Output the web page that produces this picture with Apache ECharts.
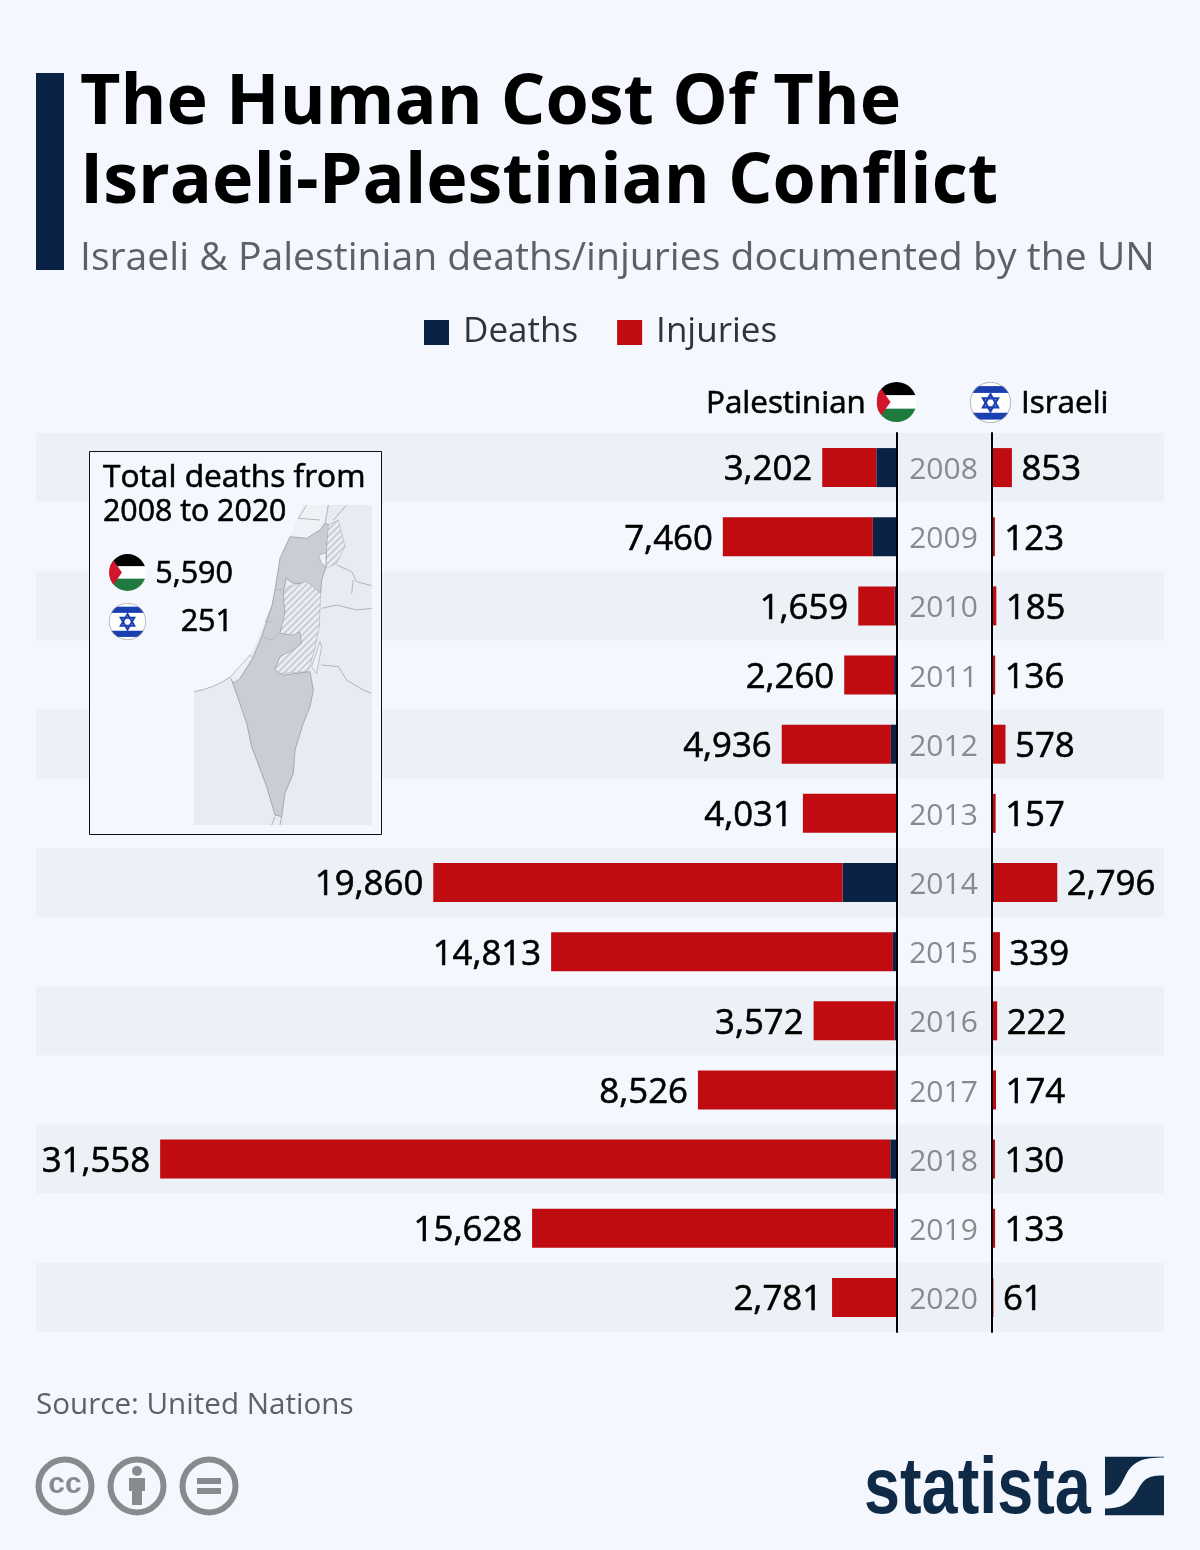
<!DOCTYPE html>
<html><head><meta charset="utf-8">
<style>html,body{margin:0;padding:0;background:#f4f8fe}#c{width:1200px;height:1550px}</style>
<script src="https://cdn.jsdelivr.net/npm/echarts@6/dist/echarts.min.js"></script>
</head><body><div id="c"></div>
<script>
const years=['2008','2009','2010','2011','2012','2013','2014','2015','2016','2017','2018','2019','2020'];
const palestinianTotals=[3202,7460,1659,2260,4936,4031,19860,14813,3572,8526,31558,15628,2781];
const palestinianDeaths=[887,1034,95,124,260,39,2329,174,109,77,290,133,39];
const palestinianInjuries=[2315,6426,1564,2136,4676,3992,17531,14639,3463,8449,31268,15495,2742];
const israeliTotals=[853,123,185,136,578,157,2796,339,222,174,130,133,61];
const israeliDeaths=[35,9,9,11,7,6,88,28,15,15,14,11,3];
const israeliInjuries=[818,114,176,125,571,151,2708,311,207,159,116,122,58];

const NAVY='#0a2246',RED='#c00b10',BG='#f4f8fe',BAND='#ecf0f7',FONT='"Open Sans"';
const uri=s=>'data:image/svg+xml;charset=utf-8,'+encodeURIComponent(s);
const palFlag=uri(`<svg xmlns="http://www.w3.org/2000/svg" viewBox="0 0 60 60"><defs><clipPath id="a"><circle cx="30" cy="30" r="30"/></clipPath></defs><g clip-path="url(#a)"><rect width="60" height="20" fill="#000"/><rect y="20" width="60" height="20" fill="#fff"/><rect y="40" width="60" height="20" fill="#1f7a3d"/><path d="M0 0L21 30L0 60Z" fill="#d2152d"/></g></svg>`);
const isrFlag=uri(`<svg xmlns="http://www.w3.org/2000/svg" viewBox="0 0 60 60"><defs><clipPath id="a"><circle cx="30" cy="30" r="30"/></clipPath></defs><g clip-path="url(#a)"><rect width="60" height="60" fill="#fff"/><rect y="6" width="60" height="10" fill="#1a3fb0"/><rect y="45" width="60" height="10" fill="#1a3fb0"/><path d="M30 18L41 37H19ZM30 43L19 24H41Z" fill="none" stroke="#1a3fb0" stroke-width="3.2"/></g><circle cx="30" cy="30" r="29.5" fill="none" stroke="#8a8f96" stroke-width="1"/></svg>`);
const mapSvg=uri(`<svg xmlns="http://www.w3.org/2000/svg" viewBox="0 0 930 1200"><defs><pattern id="h" width="14" height="14" patternUnits="userSpaceOnUse" patternTransform="rotate(-45)"><rect width="14" height="14" fill="#eceff4"/><rect width="14" height="6" fill="#c9cdd5"/></pattern></defs>
<path d="M342 755L400 740L450 712L510 645L545 570L575 500L600 355L630 290L655 235L670 195H875V1155H342Z" fill="#e8ebf1"/>
<path d="M655 235L668 195L745 195L735 250L720 270L680 295L630 290Z" fill="#eef1f6"/>
<g fill="none" stroke="#94989f" stroke-width="2"><path d="M342 755Q400 745 450 712"/><path d="M655 235L720 240"/><path d="M655 235L680 195M745 195L735 250M800 195L760 240"/><path d="M770 375L815 395L830 425L875 437M820 420L815 460M725 505L770 495L830 510L875 505M725 675L775 680L800 720L850 750L875 760M585 1130L575 1155M605 1130L600 1155"/></g>
<path d="M630 290L680 295L720 270L735 250L748 255L740 320L738 380L725 420L722 460L680 430L640 430L618 415L610 460L615 520L600 580L640 585L660 575L665 610L640 630L600 650L585 690L610 705L690 695L700 750L690 800L670 850L645 930L640 1000L615 1060L605 1130L585 1125L560 1040L515 920L500 850L455 720L480 715L518 655L545 590L575 500L585 450L600 355Z" fill="#c9cdd5" stroke="#8a8e96" stroke-width="2" stroke-linejoin="round"/>
<path d="M625 440L680 425L722 460L718 560L705 620L690 680L680 695L600 700L585 690L600 650L640 630L665 610L660 575L640 585L600 580L615 520L610 460Z" fill="url(#h)" stroke="#a2a6ae" stroke-width="1.5"/>
<path d="M745 255L775 240L795 320L770 370L738 385L740 320Z" fill="url(#h)" stroke="#a2a6ae" stroke-width="1.5"/>
<path d="M450 712L510 645L518 655L478 718L460 728Z" fill="#eceff4" stroke="#8a8e96" stroke-width="1.5"/>
<path d="M720 605L695 680L710 700L725 620Z" fill="#eef1f6" stroke="#8a8e96" stroke-width="1.5"/>
<path d="M716 345L738 338L738 380L724 370Z" fill="#eef1f6" stroke="#8a8e96" stroke-width="1.5"/>
<path d="M585 450L610 450M545 590L575 600L600 580M575 500L555 545L580 545" fill="none" stroke="#a2a6ae" stroke-width="1.5"/>
</svg>`);
const logoSvg=uri(`<svg xmlns="http://www.w3.org/2000/svg" viewBox="0 0 59 59"><rect width="59" height="59" fill="#0f2a47"/><path d="M59 1C38 1 28 4 20 20C13 35 8 39 0 39V52C14 52 25 49 33 33C40 20 46 19 59 19Z" fill="${BG}"/></svg>`);

const grey='#888b8e';
const medium={stroke:'#000',lineWidth:0.6};
const graphicEls=[
 {type:'rect',shape:{x:36,y:73,width:28,height:197},style:{fill:NAVY}},
 {type:'image',style:{image:palFlag,x:876.5,y:382,width:40,height:40}},
 {type:'image',style:{image:isrFlag,x:970,y:382,width:41,height:41}},
 {type:'rect',z:20,shape:{x:89.5,y:451.5,width:292,height:383},style:{fill:BG,stroke:'#111',lineWidth:1}},
 {type:'image',z:21,style:{image:mapSvg,x:80,y:440,width:310,height:400}},
 {type:'text',z:22,x:103,y:478,style:Object.assign({text:'Total deaths from',fill:'#000',font:'31.7px '+FONT,verticalAlign:'middle'},medium)},
 {type:'text',z:22,x:103,y:512,style:Object.assign({text:'2008 to 2020',fill:'#000',font:'30.3px '+FONT,verticalAlign:'middle'},medium)},
 {type:'image',z:22,style:{image:palFlag,x:109,y:554,width:37,height:37}},
 {type:'image',z:22,style:{image:isrFlag,x:109,y:603,width:37,height:37}},
 {type:'text',z:22,x:233,y:574,style:Object.assign({text:'5,590',fill:'#000',font:'30.5px '+FONT,align:'right',verticalAlign:'middle'},medium)},
 {type:'text',z:22,x:233,y:622,style:Object.assign({text:'251',fill:'#000',font:'30.5px '+FONT,align:'right',verticalAlign:'middle'},medium)},
 {type:'circle',shape:{cx:65,cy:1486,r:26.5},style:{fill:'none',stroke:grey,lineWidth:6}},
 {type:'circle',shape:{cx:137,cy:1486,r:26.5},style:{fill:'none',stroke:grey,lineWidth:6}},
 {type:'circle',shape:{cx:209,cy:1486,r:26.5},style:{fill:'none',stroke:grey,lineWidth:6}},
 {type:'text',x:65,y:1485,style:{text:'cc',fill:grey,font:'bold 30px "Liberation Sans"',align:'center',verticalAlign:'middle'}},
 {type:'circle',shape:{cx:137,cy:1471,r:5},style:{fill:grey}},
 {type:'rect',shape:{x:129,y:1478,width:16,height:13},style:{fill:grey}},
 {type:'rect',shape:{x:132,y:1490,width:10,height:15},style:{fill:grey}},
 {type:'rect',shape:{x:197,y:1478,width:24,height:6},style:{fill:grey}},
 {type:'rect',shape:{x:197,y:1488,width:24,height:6},style:{fill:grey}},
 {type:'text',x:864,y:1491,scaleX:0.81,style:{text:'statista',fill:'#0f2a47',font:'bold 80px "Liberation Sans"',align:'left',verticalAlign:'middle'}},
 {type:'image',style:{image:logoSvg,x:1105,y:1456.5,width:59,height:59}}
];
const LEFT_MAX=36875, RIGHT_MAX=7366;
const bar=(name,data,xi,extra)=>Object.assign({type:'bar',name,data,xAxisIndex:xi,yAxisIndex:xi,stack:'s'+xi,barWidth:39,silent:true,itemStyle:{color:name==='Deaths'?NAVY:RED}},extra||{});
const valueLabel=(pos,arr)=>({label:{show:true,position:pos,distance:pos==='left'?10:9.5,offset:[0,3],color:'#000',textBorderColor:'#000',textBorderWidth:0.6,fontFamily:FONT,fontSize:34.8,formatter:p=>arr[p.dataIndex].toLocaleString('en-US')}});
const headerStyle={fontFamily:FONT,fontWeight:'normal',fontSize:31.4,color:'#000',textBorderColor:'#000',textBorderWidth:0.6};
const chart=echarts.init(document.getElementById('c'),null,{renderer:'canvas'});
chart.setOption({
 animation:false,backgroundColor:BG,
 title:[
  {text:'The Human Cost Of The\nIsraeli-Palestinian Conflict',left:80,top:65,padding:0,textStyle:{fontFamily:FONT,fontWeight:'bold',fontSize:70,lineHeight:79,color:'#000'}},
  {text:'Israeli & Palestinian deaths/injuries documented by the UN',left:80,top:239,padding:0,textStyle:{fontFamily:FONT,fontWeight:'normal',fontSize:39.15,color:'#5c6166'}},
  {text:'Palestinian',left:706,top:388.5,padding:0,textStyle:headerStyle},
  {text:'Israeli',left:1021,top:388.5,padding:0,textStyle:headerStyle},
  {text:'Source: United Nations',left:36,top:1391,padding:0,textStyle:{fontFamily:FONT,fontWeight:'normal',fontSize:29.6,color:'#5c6166'}}
 ],
 legend:{left:424,top:315,padding:0,itemWidth:25,itemHeight:25,itemGap:39,icon:'rect',data:['Deaths','Injuries'],selectedMode:false,
  textStyle:{fontFamily:FONT,fontSize:35,color:'#2f3438',padding:[0,0,0,9]}},
 grid:[
  {left:36,width:861,top:433,height:899},
  {left:992,width:172,top:433,height:899},
  {left:36,width:1128,top:433,height:899,z:0}
 ],
 xAxis:[
  {gridIndex:0,type:'value',inverse:true,min:0,max:LEFT_MAX,show:false},
  {gridIndex:1,type:'value',min:0,max:RIGHT_MAX,show:false},
  {gridIndex:2,type:'value',min:0,max:1,show:false}
 ],
 yAxis:[
  {gridIndex:0,type:'category',inverse:true,data:years,position:'right',z:5,
   axisLine:{show:true,lineStyle:{color:'#000',width:2}},axisTick:{show:false},
   axisLabel:{margin:46.5,align:'center',verticalAlign:'top',lineHeight:6,color:'#888b8e',fontFamily:FONT,fontSize:30}},
  {gridIndex:1,type:'category',inverse:true,data:years,position:'left',z:5,
   axisLine:{show:true,lineStyle:{color:'#000',width:2}},axisTick:{show:false},axisLabel:{show:false}},
  {gridIndex:2,type:'category',inverse:true,data:years,position:'left',z:0,
   axisLine:{show:false},axisTick:{show:false},axisLabel:{show:false},
   splitLine:{show:false},splitArea:{show:true,areaStyle:{color:[BAND,BG]}}}
 ],
 series:[
  bar('Deaths',palestinianDeaths,0),
  bar('Injuries',palestinianInjuries,0,valueLabel('left',palestinianTotals)),
  bar('Deaths',israeliDeaths,1),
  bar('Injuries',israeliInjuries,1,valueLabel('right',israeliTotals))
 ],
 graphic:{elements:graphicEls}
});
</script></body></html>
